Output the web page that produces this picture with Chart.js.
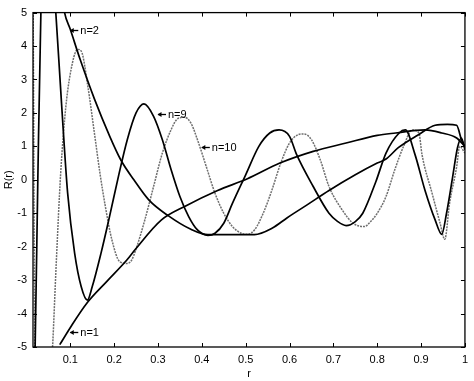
<!DOCTYPE html>
<html>
<head>
<meta charset="utf-8">
<script src="https://cdn.jsdelivr.net/npm/chart.js@4.4.0/dist/chart.umd.min.js"></script>
<style>
  html, body { margin: 0; padding: 0; background: #fff; }
</style>
</head>
<body>
<canvas id="chart" width="474" height="381"></canvas>
<script>
// tick values
const xTicks = [0.1, 0.2, 0.3, 0.4, 0.5, 0.6, 0.7, 0.8, 0.9, 1];
const yTicks = [-5, -4, -3, -2, -1, 0, 1, 2, 3, 4, 5];

// n=1
const n1R = [0.076, 0.101, 0.139, 0.184, 0.229, 0.249, 0.308, 0.362, 0.436, 0.504, 0.578, 0.654, 0.729, 0.80, 0.842, 0.909, 0.947, 0.981, 1.0];
const n1V = [-4.93, -4.4, -3.67, -3.03, -2.4, -2.07, -1.2, -0.79, -0.32, 0.03, 0.5, 0.85, 1.1, 1.33, 1.4, 1.49, 1.4, 1.25, 1.0];

// n=2
const n2R = [0.06, 0.087, 0.1, 0.123, 0.155, 0.19, 0.215, 0.245, 0.279, 0.324, 0.375, 0.414, 0.45, 0.52, 0.56, 0.594, 0.64, 0.69, 0.75, 0.80, 0.82, 0.848, 0.893, 0.932, 0.96, 0.981, 0.992, 1.0];
const n2V = [7.5, 5, 4.5, 3.58, 2.42, 1.3, 0.6, 0.0, -0.6, -1.08, -1.48, -1.64, -1.64, -1.64, -1.45, -1.14, -0.75, -0.32, 0.15, 0.5, 0.62, 0.96, 1.34, 1.63, 1.66, 1.63, 1.2, 0.96];

// n=9
const n9R = [0.016, 0.02, 0.026, 0.033, 0.04, 0.05, 0.06, 0.067, 0.08, 0.094, 0.11, 0.125, 0.139, 0.15, 0.17, 0.189, 0.211, 0.23, 0.25, 0.268, 0.29, 0.31, 0.33, 0.35, 0.37, 0.39, 0.414, 0.43, 0.45, 0.47, 0.5, 0.53, 0.555, 0.576, 0.6, 0.616, 0.654, 0.69, 0.71, 0.729, 0.75, 0.767, 0.797, 0.82, 0.85, 0.864, 0.886, 0.909, 0.932, 0.947, 0.958, 0.972, 0.983, 0.992, 1.0];
const n9V = [-6.5, -4.9, 0, 5, 6.5, 7, 6.2, 5, 2.3, -0.4, -2.2, -3.2, -3.6, -3.2, -2.2, -1.13, 0.17, 1.2, 2.0, 2.27, 1.9, 1.2, 0.3, -0.5, -1.1, -1.5, -1.66, -1.6, -1.3, -0.7, 0.15, 1.0, 1.4, 1.49, 1.3, 0.76, -0.2, -1.0, -1.25, -1.37, -1.25, -1.0, -0.05, 0.8, 1.4, 1.49, 0.76, -0.32, -1.2, -1.63, -1.0, 0.09, 0.96, 1.25, 0.9];

// n=10
const n10R = [0.015, 0.02, 0.03, 0.045, 0.055, 0.06, 0.068, 0.078, 0.09, 0.105, 0.117, 0.125, 0.14, 0.155, 0.168, 0.18, 0.195, 0.213, 0.23, 0.24, 0.25, 0.27, 0.29, 0.31, 0.33, 0.345, 0.36, 0.375, 0.39, 0.41, 0.43, 0.45, 0.47, 0.49, 0.504, 0.52, 0.54, 0.56, 0.58, 0.6, 0.62, 0.632, 0.65, 0.67, 0.69, 0.72, 0.745, 0.77, 0.785, 0.80, 0.82, 0.84, 0.86, 0.88, 0.895, 0.902, 0.925, 0.943, 0.954, 0.965, 0.981, 0.988, 1.0];
const n10V = [6, -6, -8, -8, -6, -4.9, -2.5, 0.17, 2.2, 3.5, 3.9, 3.85, 2.8, 1.4, 0.17, -0.8, -1.8, -2.45, -2.5, -2.4, -2.07, -1.2, -0.2, 0.8, 1.5, 1.83, 1.87, 1.7, 1.2, 0.4, -0.4, -1.0, -1.4, -1.6, -1.63, -1.5, -1.0, -0.3, 0.5, 1.1, 1.35, 1.37, 1.2, 0.6, -0.2, -0.9, -1.3, -1.4, -1.25, -1.0, -0.5, 0.3, 1.0, 1.49, 1.4, 0.76, -0.4, -1.28, -1.78, -0.7, 0.38, 1.0, 0.8];

// curve labels (arrow tip at r, v)
const labelText = ["n=2", "n=1", "n=9", "n=10"];
const labelR = [0.1, 0.1, 0.3, 0.4];
const labelV = [4.49, -4.55, 1.98, 0.99];

function toPoints(rs, vs) {
    return rs.map((r, i) => ({ x: r, y: vs[i] }));
}

function lineSet(label, rs, vs, color, dash, width) {
    return {
        label: label,
        data: toPoints(rs, vs),
        borderColor: color,
        borderWidth: width,
        borderDash: dash,
        pointRadius: 0,
        fill: false,
        cubicInterpolationMode: 'monotone'
    };
}

const FONT = "Arial, 'Liberation Sans', 'DejaVu Sans', sans-serif";

// frame, inward ticks and curve labels
const framePlugin = {
    id: 'frame',
    afterDraw(chart) {
        const ctx = chart.ctx;
        const a = chart.chartArea;
        const xs = chart.scales.x;
        const ys = chart.scales.y;
        const tl = 4;
        ctx.save();
        ctx.strokeStyle = '#000';
        ctx.lineWidth = 1.3;
        ctx.strokeRect(a.left, a.top, a.right - a.left, a.bottom - a.top);
        ctx.beginPath();
        xTicks.forEach(v => {
            const px = Math.round(xs.getPixelForValue(v)) + 0.5;
            ctx.moveTo(px, a.bottom); ctx.lineTo(px, a.bottom - tl);
            ctx.moveTo(px, a.top); ctx.lineTo(px, a.top + tl);
        });
        yTicks.forEach(v => {
            const py = Math.round(ys.getPixelForValue(v)) + 0.5;
            ctx.moveTo(a.left, py); ctx.lineTo(a.left + tl, py);
            ctx.moveTo(a.right, py); ctx.lineTo(a.right - tl, py);
        });
        ctx.lineWidth = 1;
        ctx.stroke();

        // arrows and text
        ctx.fillStyle = '#000';
        ctx.font = '11px ' + FONT;
        ctx.textBaseline = 'middle';
        ctx.textAlign = 'left';
        labelText.forEach((t, i) => {
            const px = xs.getPixelForValue(labelR[i]);
            const py = Math.round(ys.getPixelForValue(labelV[i])) + 0.5;
            ctx.beginPath();
            ctx.moveTo(px, py); ctx.lineTo(px + 8, py);
            ctx.lineWidth = 1.3;
            ctx.stroke();
            ctx.beginPath();
            ctx.moveTo(px - 0.5, py);
            ctx.lineTo(px + 3.5, py - 2.5);
            ctx.lineTo(px + 3.5, py + 2.5);
            ctx.closePath();
            ctx.fill();
            ctx.fillText(t, px + 10, py);
        });
        ctx.restore();
    }
};

new Chart(document.getElementById('chart'), {
    type: 'line',
    data: {
        datasets: [
            lineSet('n=1', n1R, n1V, '#000', [], 1.7),
            lineSet('n=2', n2R, n2V, '#000', [], 1.7),
            lineSet('n=9', n9R, n9V, '#000', [], 1.7),
            lineSet('n=10', n10R, n10V, '#6f6f6f', [2, 1], 1.5)
        ]
    },
    options: {
        responsive: false,
        animation: false,
        layout: { padding: { top: 5, right: 1, left: 0, bottom: 0 } },
        plugins: {
            legend: { display: false },
            tooltip: { enabled: false }
        },
        scales: {
            x: {
                type: 'linear',
                min: 0.015,
                max: 1,
                grid: { display: false, drawTicks: false, tickLength: 0 },
                border: { display: false },
                afterBuildTicks: s => { s.ticks = xTicks.map(v => ({ value: v })); },
                afterFit: s => { s.height = 34; },
                ticks: {
                    color: '#000',
                    padding: 6,
                    maxRotation: 0,
                    autoSkip: false,
                    font: { family: FONT, size: 11 },
                    callback: v => String(v)
                },
                title: {
                    display: true,
                    text: 'r',
                    color: '#000',
                    font: { family: FONT, size: 11 },
                    padding: { top: -2, bottom: 0 }
                }
            },
            y: {
                min: -5,
                max: 5,
                grid: { display: false, drawTicks: false, tickLength: 0 },
                border: { display: false },
                afterBuildTicks: s => { s.ticks = yTicks.map(v => ({ value: v })); },
                afterFit: s => { s.width = 33; },
                ticks: {
                    color: '#000',
                    padding: 6,
                    autoSkip: false,
                    font: { family: FONT, size: 11 }
                },
                title: {
                    display: true,
                    text: 'R(r)',
                    color: '#000',
                    font: { family: FONT, size: 11 },
                    padding: { top: 2, bottom: 0 }
                }
            }
        }
    },
    plugins: [framePlugin]
});
</script>
</body>
</html>
